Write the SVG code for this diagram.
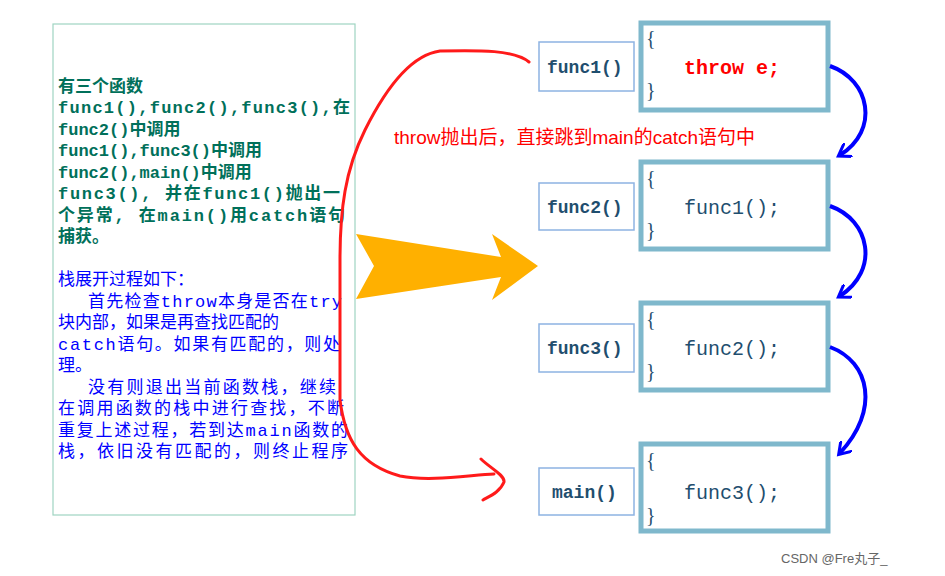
<svg xmlns="http://www.w3.org/2000/svg" width="945" height="576" viewBox="0 0 945 576">
<defs>
<style>
.lt{font-family:"Liberation Mono","Noto Sans CJK SC",monospace;font-size:17px}
.g{fill:#00705a;font-weight:bold}
.b{fill:#0000ff}
.lab{fill:#fff;stroke:#8db3e2;stroke-width:1.5}
.code{fill:#fff;stroke:#7fb8cc;stroke-width:5}
.lbt{font-family:"Liberation Mono",monospace;font-size:18px;fill:#1f4e6e;font-weight:bold}
.ct{font-family:"Liberation Mono",monospace;font-size:20px;fill:#1f4e6e}
.br{font-family:"Liberation Serif",serif;font-size:20px;fill:#1f4e6e}
.blue{fill:none;stroke:#0000ff;stroke-width:4}
</style>
<marker id="ah" markerWidth="16" markerHeight="16" refX="10" refY="8" orient="auto" markerUnits="userSpaceOnUse" viewBox="0 0 16 16"><path d="M0,0 L12,8 L0,16" fill="none" stroke="#0000ff" stroke-width="3"/></marker>
</defs>
<rect width="945" height="576" fill="#fff"/>
<g id="desc">
<rect x="53" y="24" width="302" height="491" fill="#fff" stroke="#9fd4c2" stroke-width="1.2"/>
<text class="lt g"><tspan x="58" y="92">有三个函数</tspan><tspan x="58" y="113" textLength="292">func1(),func2(),func3(),在</tspan><tspan x="58" y="135">func2()中调用</tspan><tspan x="58" y="156">func1(),func3()中调用</tspan><tspan x="58" y="178">func2(),main()中调用</tspan><tspan x="58" y="199" textLength="282">func3(), 并在func1()抛出一</tspan><tspan x="58" y="221" textLength="287">个异常, 在main()用catch语句</tspan><tspan x="58" y="242">捕获。</tspan></text>
<text class="lt b"><tspan x="58" y="285">栈展开过程如下：</tspan><tspan x="88" y="307" textLength="254">首先检查throw本身是否在try</tspan><tspan x="58" y="328">块内部，如果是再查找匹配的</tspan><tspan x="58" y="350" textLength="282">catch语句。如果有匹配的，则处</tspan><tspan x="58" y="371">理。</tspan><tspan x="88" y="393" textLength="248">没有则退出当前函数栈，继续</tspan><tspan x="58" y="414" textLength="286">在调用函数的栈中进行查找，不断</tspan><tspan x="58" y="436" textLength="290">重复上述过程，若到达main函数的</tspan><tspan x="58" y="457" textLength="290">栈，依旧没有匹配的，则终止程序</tspan></text>
</g>
<g id="arrow-orange"><polygon points="356,234 374,266 356,299 501,277 492,300 538,266 492,234 501,257" fill="#ffb000"/></g>
<g id="f1">
<rect class="lab" x="539" y="42" width="95" height="49"/><text class="lbt" x="547" y="73">func1()</text>
<rect class="code" x="641" y="23" width="187" height="87"/>
<text class="br" x="646" y="45">{</text><text class="ct" x="684" y="74" style="fill:#ff0000;font-weight:bold">throw e;</text><text class="br" x="646" y="97">}</text>
</g>
<g id="f2">
<rect class="lab" x="539" y="183" width="95" height="47"/><text class="lbt" x="547" y="213">func2()</text>
<rect class="code" x="641" y="162" width="187" height="87"/>
<text class="br" x="646" y="185">{</text><text class="ct" x="684" y="214">func1();</text><text class="br" x="646" y="237">}</text>
</g>
<g id="f3">
<rect class="lab" x="539" y="324" width="95" height="48"/><text class="lbt" x="547" y="354">func3()</text>
<rect class="code" x="641" y="303" width="187" height="87"/>
<text class="br" x="646" y="326">{</text><text class="ct" x="684" y="355">func2();</text><text class="br" x="646" y="378">}</text>
</g>
<g id="main">
<rect class="lab" x="539" y="468" width="95" height="47"/><text class="lbt" x="552" y="498">main()</text>
<rect class="code" x="641" y="444" width="187" height="87"/>
<text class="br" x="646" y="467">{</text><text class="ct" x="684" y="499">func3();</text><text class="br" x="646" y="522">}</text>
</g>
<g id="connectors">
<path class="blue" d="M830,66 C870,80 880,130 840,155" marker-end="url(#ah)"/>
<path class="blue" d="M830,206 C870,220 880,270 840,296" marker-end="url(#ah)"/>
<path class="blue" d="M830,347 C870,362 880,410 840,453" marker-end="url(#ah)"/>
<path d="M529,62 C515,50 480,50 440,51 C410,55 385,90 365,130 C345,170 340,210 340,260 L340,400 C345,440 360,465 400,476 C430,482 470,475 494,474 M481,459 C490,468 505,475 504,482 C500,492 490,496 483,500" fill="none" stroke="#ff1a1a" stroke-width="3" stroke-linecap="round"/>
<text x="394" y="144" font-family="Liberation Sans,Noto Sans CJK SC,sans-serif" font-size="19" fill="#ff0000">throw抛出后，直接跳到main的catch语句中</text>
</g>
<text x="781" y="563" font-family="Liberation Sans,Noto Sans CJK SC,sans-serif" font-size="13" fill="#666">CSDN @Fre丸子_</text>
</svg>
